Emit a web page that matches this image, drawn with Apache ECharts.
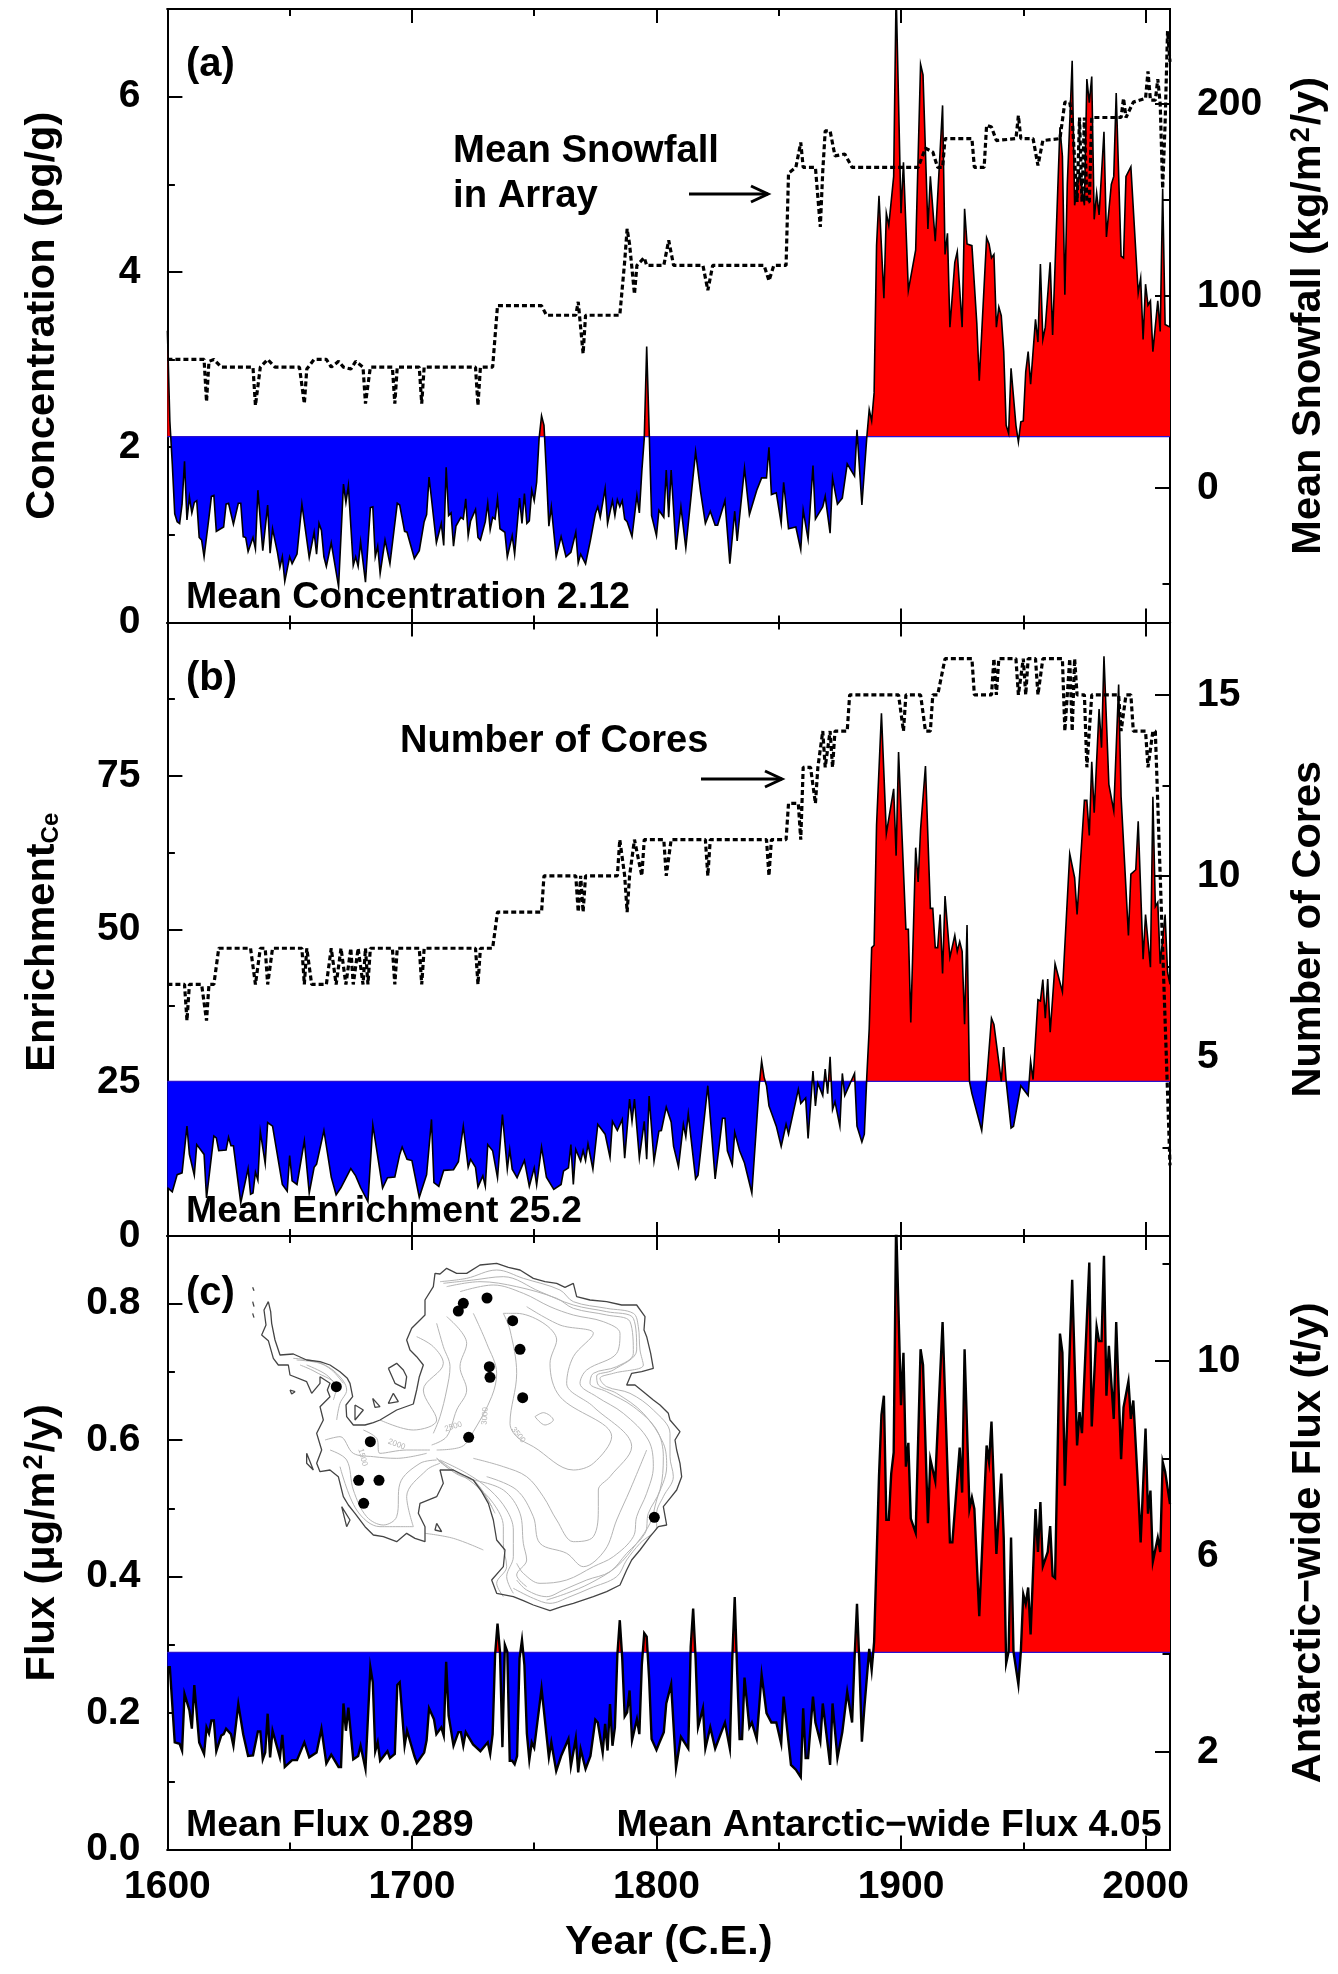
<!DOCTYPE html>
<html><head><meta charset="utf-8">
<style>html,body{margin:0;padding:0;background:#fff}#c{width:1338px;height:1974px}</style>
<script src="https://cdn.jsdelivr.net/npm/echarts@6/dist/echarts.min.js"></script>
</head><body><div id="c"></div>
<script>
const meanConcentration=2.12, meanEnrichment=25.2, meanFlux=0.289;
const concentration=[[1600,3.33],[1601,2.3],[1602,1.81],[1603,1.24],[1604,1.15],[1605,1.13],[1606,1.35],[1607,1.84],[1608,1.17],[1609,1.43],[1610,1.25],[1611,1.37],[1612,1.39],[1613,.97],[1614,.94],[1615,.75],[1617,1.2],[1618,1.44],[1619,1.45],[1620,1.04],[1623,1.09],[1624,1.35],[1625,1.36],[1627,1.12],[1629,1.36],[1630,1.36],[1631,.98],[1632,.97],[1633,.81],[1635,.97],[1636,.84],[1637,1.51],[1639,.82],[1641,1.34],[1642,.79],[1643,1.07],[1645,.8],[1646,.63],[1647,.75],[1648,.47],[1650,.75],[1651,.67],[1653,.78],[1655,1.35],[1658,.74],[1660,1.03],[1661,.78],[1662,1.13],[1663,1.05],[1664,.75],[1665,.64],[1667,.91],[1670,.41],[1672,1.58],[1673,1.37],[1674,1.56],[1676,.65],[1677,.75],[1678,.64],[1679,.92],[1681,.46],[1683,1.31],[1684,1.32],[1685,.75],[1686,.87],[1687,.56],[1689,.94],[1691,.67],[1694,1.36],[1695,1.34],[1697,1.04],[1698,1.03],[1701,.73],[1703,.82],[1705,1.15],[1706,1.23],[1707,1.66],[1710,.91],[1712,1.13],[1713,.88],[1714,1.77],[1715,1.22],[1716,1.25],[1717,.87],[1718,1.1],[1720,1.2],[1721,1.18],[1722,1.41],[1723,.99],[1724,1.16],[1726,1.29],[1727,.97],[1728,.94],[1730,1.15],[1731,1.36],[1732,1.06],[1733,1.2],[1734,1.18],[1735,1.41],[1736,1.07],[1738,1.03],[1739,.75],[1741,.99],[1742,.78],[1744,1.42],[1745,1.13],[1746,1.47],[1747,1.13],[1748,1.16],[1749,1.51],[1750,1.39],[1751,1.6],[1752,2.1],[1753,2.36],[1754,2.25],[1755,1.7],[1756,1.1],[1757,1.32],[1759,.75],[1761,.98],[1763,.75],[1765,.8],[1767,1.03],[1768,.68],[1769,.78],[1771,.67],[1773,.94],[1775,1.24],[1776,1.32],[1777,1.2],[1779,1.53],[1780,1.13],[1782,1.39],[1783,1.22],[1784,1.4],[1785,1.32],[1786,1.39],[1787,1.18],[1788,1.15],[1790,.98],[1792,1.45],[1793,1.25],[1794,1.72],[1795,2.1],[1796,3.15],[1797,2.2],[1798,1.22],[1800,.99],[1801,1.28],[1803,1.2],[1804,1.74],[1805,1.2],[1806,1.74],[1808,.83],[1810,1.32],[1812,.85],[1816,1.95],[1818,1.5],[1820,1.13],[1822,1.27],[1824,1.11],[1825,1.11],[1828,1.39],[1830,.67],[1832,1.27],[1833,.93],[1836,1.76],[1838,1.23],[1841,1.51],[1843,1.65],[1845,1.65],[1846,2.0],[1847,1.46],[1849,1.48],[1851,1.13],[1852,1.6],[1854,1.07],[1857,1.09],[1859,.83],[1860,1.28],[1862,.95],[1864,1.79],[1865,1.18],[1868,1.32],[1869,1.44],[1871,1.02],[1872,1.65],[1874,1.35],[1876,1.42],[1878,1.81],[1881,1.67],[1882,2.2],[1884,1.34],[1886,2.11],[1887,2.43],[1888,2.3],[1889,2.62],[1890,4.3],[1891,4.87],[1893,3.7],[1894,4.67],[1895,4.53],[1897,5.09],[1898,7.2],[1900,4.67],[1901,5.25],[1903,3.79],[1906,4.25],[1908,6.37],[1909,6.25],[1911,4.49],[1912,5.09],[1914,4.35],[1917,5.9],[1918,4.2],[1919,4.44],[1920,3.37],[1922,4.11],[1923,4.23],[1925,3.37],[1926,4.72],[1927,4.32],[1929,4.3],[1931,3.41],[1932,2.76],[1935,4.39],[1936,4.32],[1937,4.16],[1938,4.2],[1939,3.37],[1940,3.6],[1941,3.5],[1942,3.09],[1943,2.25],[1944,2.16],[1945,2.9],[1947,2.25],[1948,2.06],[1949,2.29],[1950,2.3],[1951,2.86],[1952,3.09],[1953,2.72],[1955,3.46],[1956,3.2],[1957,4.09],[1958,3.23],[1959,3.37],[1961,4.11],[1962,3.28],[1965,5.65],[1966,5.32],[1967,3.74],[1968,5.0],[1970,6.41],[1971,4.76],[1973,5.13],[1975,4.76],[1976,6.2],[1977,5.93],[1978,6.23],[1979,4.6],[1980,4.9],[1981,4.65],[1983,5.6],[1984,4.4],[1986,5.0],[1987,5.09],[1988,6.04],[1990,4.18],[1991,4.16],[1992,5.09],[1994,5.2],[1997,3.76],[1998,3.93],[1999,3.23],[2000,3.86],[2001,3.62],[2002,3.67],[2003,3.09],[2005,3.67],[2006,3.32],[2007,4.95],[2008,3.4],[2010,3.37]];
const snowfall=[[1600,67],[1615,67],[1616,45],[1617,66],[1619,67],[1622,63],[1635,63],[1636,43],[1638,63],[1641,67],[1644,63],[1654,63],[1656,44],[1657,62],[1660,67],[1665,67],[1667,63],[1670,66],[1672,63],[1675,62],[1677,66],[1680,63],[1681,44],[1683,63],[1692,63],[1693,44],[1694,63],[1703,63],[1704,44],[1705,63],[1726,63],[1727,43],[1728,63],[1733,63],[1735,95],[1753,95],[1755,90],[1767,90],[1768,97],[1770,70],[1771,90],[1785,90],[1787,118],[1788,135],[1789,127],[1791,101],[1792,116],[1795,120],[1796,116],[1803,116],[1805,129],[1807,116],[1819,116],[1821,103],[1823,116],[1844,116],[1846,108],[1848,116],[1853,116],[1854,164],[1857,167],[1859,180],[1860,167],[1865,167],[1867,136],[1868,165],[1869,186],[1871,186],[1873,173],[1877,174],[1880,167],[1907,167],[1910,177],[1913,175],[1915,167],[1917,167],[1918,182],[1929,182],[1930,167],[1934,167],[1935,189],[1937,188],[1939,181],[1947,182],[1948,194],[1949,182],[1954,182],[1956,168],[1958,181],[1965,182],[1967,201],[1969,201],[1970,193],[1972,149],[1973,193],[1974,149],[1975,193],[1976,149],[1977,149],[1978,193],[1990,193],[1991,203],[1992,193],[1995,201],[2000,203],[2001,217],[2002,202],[2004,202],[2005,213],[2006,200],[2007,156],[2008,190],[2009,238],[2010,222]];
const enrichment=[[1600,7.9],[1602,7.2],[1604,10],[1606,10.3],[1608,17.9],[1609,13.3],[1611,9.9],[1612,14.9],[1615,13.3],[1616,6.2],[1619,16.3],[1620,16],[1621,13.9],[1624,14],[1625,16.1],[1626,14.7],[1627,14.7],[1630,5.4],[1633,11],[1634,6.8],[1635,7],[1636,10.4],[1637,9.1],[1638,17],[1640,11.8],[1641,18.5],[1643,17.9],[1647,8.4],[1649,7.3],[1650,13.1],[1651,9],[1653,8.4],[1656,15.5],[1658,7],[1660,11.2],[1661,11.7],[1664,17.2],[1667,9.6],[1669,6.7],[1671,7.9],[1675,11],[1677,9.8],[1679,7.9],[1682,5.6],[1684,18.1],[1688,7.8],[1690,9.5],[1693,9.6],[1695,13.3],[1696,14.5],[1698,12.5],[1700,12.3],[1703,6.3],[1706,10],[1708,19],[1709,8.7],[1711,8.1],[1713,10.7],[1717,10.8],[1719,12.1],[1721,17.9],[1723,11.2],[1724,12.5],[1726,11.2],[1727,8],[1729,9.8],[1730,8.1],[1731,14.9],[1733,13.9],[1735,9.5],[1737,19.8],[1739,10.9],[1740,14.1],[1741,10.9],[1743,9.5],[1746,12.3],[1748,8.1],[1750,11.1],[1751,8.3],[1753,14.5],[1755,9.6],[1758,7.6],[1761,8.4],[1762,10.6],[1764,11.1],[1765,14.9],[1766,8.4],[1767,14.1],[1769,12.2],[1770,13.9],[1771,12.3],[1772,15],[1774,10.9],[1776,18.2],[1779,16.6],[1781,12.8],[1782,18.7],[1784,17.2],[1786,19],[1787,12.7],[1789,22.3],[1790,18.7],[1791,22.3],[1793,12.7],[1795,18.7],[1796,12.5],[1797,22.8],[1799,12.2],[1801,17.1],[1802,17.2],[1804,21],[1806,18.6],[1807,14.6],[1809,11.3],[1811,18.2],[1812,16.2],[1813,19.9],[1816,9.3],[1817,9.9],[1821,24.5],[1824,9.3],[1827,19.2],[1828,19.2],[1829,13.9],[1831,11.6],[1832,16.9],[1834,13.9],[1836,11.9],[1839,7],[1841,18.6],[1842,24.5],[1843,28.5],[1844,25.9],[1845,24.5],[1846,21.2],[1849,17.9],[1851,14.6],[1853,18.2],[1854,16.6],[1858,23.9],[1859,21.6],[1861,22.5],[1862,15.9],[1864,26.9],[1865,21.2],[1866,24.9],[1868,22.9],[1869,27.2],[1870,23.2],[1871,29.2],[1872,20.6],[1873,21.9],[1875,17.9],[1876,26.5],[1877,22.9],[1881,26.5],[1882,17.9],[1884,15.3],[1885,16.6],[1886,25.9],[1887,33.8],[1888,47],[1889,47.4],[1890,67],[1892,85.2],[1894,65.6],[1897,72.9],[1898,62],[1899,78.9],[1902,50],[1903,50],[1904,34.8],[1906,63.3],[1907,57.7],[1908,66.3],[1910,76.6],[1912,53.4],[1913,53.4],[1914,47],[1915,47],[1916,52.4],[1917,42.8],[1918,55.4],[1920,45.4],[1922,49],[1923,46.4],[1924,48],[1925,46.4],[1926,34.5],[1927,50.7],[1928,25.2],[1929,23.2],[1933,17.2],[1935,25.2],[1937,35.5],[1938,34.5],[1941,25.2],[1942,30.8],[1943,25.2],[1945,17.6],[1946,17.9],[1949,24.5],[1952,22.9],[1953,28.5],[1954,25.5],[1956,38.5],[1957,38.3],[1958,41.8],[1959,35.5],[1960,41.9],[1961,33.2],[1963,44.4],[1966,39.8],[1969,62.3],[1971,58.4],[1972,52.4],[1975,71],[1976,71],[1977,65.3],[1978,77.3],[1979,69],[1981,85.9],[1982,79.6],[1983,94.5],[1985,73.6],[1987,69.3],[1989,89.9],[1990,71.6],[1993,49],[1994,59],[1996,59.7],[1997,67.6],[1999,45.1],[2000,52.4],[2002,43.8],[2003,71.6],[2004,53.7],[2005,54.4],[2006,44.4],[2008,52.4],[2009,43],[2010,41]];
const cores=[[1600,7],[1607,7],[1608,6],[1609,7],[1614,7],[1616,6],[1617,7],[1619,7],[1621,8],[1634,8],[1636,7],[1638,8],[1640,8],[1641,7],[1643,8],[1655,8],[1656,7],[1657,8],[1659,7],[1665,7],[1667,8],[1669,7],[1671,8],[1673,7],[1675,8],[1676,7],[1678,8],[1680,7],[1681,8],[1682,7],[1683,8],[1692,8],[1693,7],[1694,8],[1703,8],[1704,7],[1705,8],[1726,8],[1727,7],[1728,8],[1733,8],[1735,9],[1753,9],[1754,10],[1767,10],[1768,9],[1769,10],[1770,9],[1771,10],[1784,10],[1785,11],[1787,10],[1788,9],[1789,10],[1791,11],[1794,10],[1795,11],[1803,11],[1804,10],[1806,11],[1820,11],[1821,10],[1822,11],[1845,11],[1846,10],[1847,11],[1853,11],[1854,12],[1858,12],[1859,11],[1860,13],[1863,13],[1865,12],[1866,13],[1868,14],[1869,13],[1871,14],[1872,13],[1873,14],[1878,14],[1879,15],[1899,15],[1901,14],[1902,15],[1908,15],[1910,14],[1912,14],[1913,15],[1915,15],[1918,16],[1929,16],[1930,15],[1937,15],[1938,16],[1939,15],[1940,16],[1947,16],[1948,15],[1950,16],[1951,15],[1952,16],[1955,16],[1956,15],[1958,16],[1966,16],[1967,14],[1969,16],[1970,14],[1971,16],[1972,15],[1975,15],[1976,13],[1978,15],[1989,15],[1990,14],[1992,15],[1994,15],[1995,14],[2000,14],[2001,13],[2003,14],[2004,14],[2005,12],[2006,10],[2007,8],[2008,6],[2009,4],[2010,2]];
const flux=[[1600,.267],[1601,.267],[1603,.157],[1605,.155],[1606,.145],[1607,.228],[1609,.204],[1610,.177],[1611,.241],[1613,.157],[1615,.14],[1616,.179],[1617,.17],[1618,.189],[1619,.189],[1620,.144],[1622,.167],[1623,.169],[1624,.177],[1626,.169],[1627,.152],[1629,.213],[1631,.169],[1633,.137],[1635,.138],[1637,.173],[1638,.173],[1639,.132],[1640,.142],[1641,.199],[1642,.135],[1643,.174],[1646,.135],[1647,.168],[1648,.121],[1651,.131],[1653,.131],[1656,.157],[1658,.135],[1661,.142],[1663,.177],[1665,.126],[1667,.139],[1670,.121],[1671,.121],[1672,.214],[1673,.174],[1674,.208],[1676,.132],[1678,.137],[1679,.152],[1681,.118],[1683,.267],[1684,.245],[1685,.144],[1686,.157],[1687,.13],[1690,.144],[1691,.134],[1693,.14],[1694,.241],[1695,.245],[1697,.152],[1698,.174],[1701,.137],[1702,.127],[1705,.142],[1706,.16],[1707,.207],[1709,.191],[1710,.169],[1712,.179],[1713,.167],[1714,.275],[1715,.196],[1717,.152],[1719,.172],[1720,.172],[1721,.152],[1722,.172],[1725,.154],[1728,.144],[1731,.157],[1732,.14],[1733,.169],[1734,.285],[1735,.331],[1736,.29],[1737,.15],[1738,.3],[1739,.29],[1740,.13],[1741,.13],[1742,.125],[1743,.137],[1744,.28],[1745,.307],[1746,.27],[1747,.17],[1748,.131],[1749,.157],[1750,.149],[1753,.236],[1756,.135],[1757,.157],[1759,.115],[1761,.137],[1764,.162],[1765,.122],[1767,.163],[1768,.113],[1769,.147],[1771,.118],[1773,.137],[1775,.19],[1776,.186],[1778,.142],[1779,.184],[1780,.145],[1781,.213],[1782,.152],[1783,.179],[1784,.285],[1785,.336],[1786,.28],[1787,.195],[1788,.201],[1789,.233],[1790,.16],[1792,.191],[1793,.169],[1794,.27],[1795,.317],[1796,.312],[1797,.25],[1798,.162],[1800,.146],[1801,.155],[1803,.172],[1804,.214],[1806,.242],[1808,.12],[1810,.165],[1813,.148],[1814,.297],[1815,.353],[1816,.28],[1817,.179],[1819,.207],[1820,.148],[1822,.179],[1824,.148],[1828,.186],[1830,.148],[1831,.28],[1832,.37],[1833,.26],[1834,.162],[1835,.162],[1836,.252],[1838,.179],[1839,.186],[1841,.162],[1843,.256],[1845,.2],[1847,.186],[1849,.186],[1851,.155],[1852,.224],[1855,.124],[1857,.117],[1859,.106],[1860,.207],[1861,.134],[1862,.134],[1864,.224],[1865,.186],[1867,.158],[1868,.214],[1871,.124],[1872,.214],[1874,.134],[1876,.172],[1878,.231],[1880,.186],[1881,.28],[1882,.36],[1883,.27],[1884,.158],[1885,.207],[1887,.294],[1888,.263],[1889,.304],[1891,.547],[1892,.637],[1893,.665],[1894,.483],[1895,.483],[1896,.551],[1897,.582],[1898,.92],[1900,.651],[1901,.728],[1902,.561],[1903,.596],[1904,.485],[1906,.464],[1908,.733],[1909,.71],[1911,.478],[1912,.572],[1914,.54],[1917,.773],[1920,.45],[1921,.45],[1924,.589],[1925,.523],[1926,.733],[1928,.499],[1929,.516],[1930,.499],[1932,.342],[1935,.592],[1936,.568],[1937,.627],[1939,.433],[1941,.551],[1942,.457],[1943,.273],[1944,.29],[1945,.457],[1946,.29],[1948,.242],[1949,.29],[1950,.374],[1951,.36],[1952,.384],[1953,.315],[1955,.499],[1956,.436],[1957,.509],[1958,.415],[1960,.436],[1961,.474],[1962,.401],[1963,.398],[1965,.756],[1966,.728],[1967,.533],[1970,.835],[1972,.592],[1973,.641],[1974,.61],[1977,.86],[1978,.62],[1980,.766],[1981,.745],[1982,.745],[1983,.87],[1984,.665],[1985,.738],[1987,.631],[1988,.773],[1990,.572],[1991,.648],[1993,.686],[1994,.631],[1995,.658],[1997,.526],[1998,.45],[2000,.617],[2001,.492],[2002,.526],[2003,.422],[2005,.457],[2006,.436],[2007,.568],[2008,.554],[2010,.506]];

const yearTicks=[1600,1700,1800,1900,2000], yearMinor=[1650,1750,1850,1950];
const ticksA=[0,2,4,6], minorA=[1,3,5], ticksSnow=[0,100,200], minorSnow=[-50,50,150];
const ticksB=[0,25,50,75], minorB=[12.5,37.5,62.5,87.5], ticksCores=[5,10,15], minorCores=[2.5,7.5,12.5];
const ticksC=[0,.2,.4,.6,.8], minorC=[.1,.3,.5,.7], ticksWide=[2,6,10], minorWide=[4,8,12];

// Inset map of Antarctica, in the inset's own map units
const coast=[[85,155],[92,185],[95,220],[105,270],[120,315],[160,312],[200,330],[240,335],[270,345],[300,365],[322,385],[330,400],[338,440],[318,465],[320,500],[340,525],[375,525],[400,518],[420,510],[470,480],[520,462],[530,420],[538,380],[550,345],[530,320],[510,300],[500,270],[515,235],[540,210],[555,195],[555,150],[580,110],[585,70],[600,72],[620,55],[650,70],[680,70],[720,45],[770,40],[805,52],[840,60],[880,85],[915,95],[950,100],[975,112],[1000,100],[1010,140],[1050,150],[1100,155],[1145,165],[1190,165],[1215,200],[1212,240],[1220,260],[1232,310],[1240,355],[1205,365],[1175,370],[1160,405],[1185,405],[1210,425],[1240,450],[1260,465],[1285,490],[1290,510],[1320,545],[1305,570],[1310,600],[1320,640],[1325,680],[1310,720],[1290,745],[1270,770],[1280,825],[1255,830],[1230,860],[1200,900],[1175,930],[1160,960],[1140,1005],[1100,1025],[1060,1040],[1000,1060],[965,1070],[930,1082],[880,1065],[850,1052],[820,1040],[770,1030],[755,990],[790,950],[795,900],[770,870],[765,840],[760,810],[745,760],[725,725],[700,690],[640,660],[600,660],[610,700],[590,740],[540,760],[535,790],[555,830],[555,875],[525,865],[500,850],[470,875],[430,860],[400,855],[375,830],[345,790],[325,765],[310,740],[295,680],[270,660],[240,665],[230,640],[245,600],[230,550],[250,510],[240,470],[270,440],[262,420],[270,400],[240,380],[240,400],[215,430],[200,395],[150,375],[145,345],[115,345],[100,325],[85,272],[65,255],[78,225],[72,180],[85,155]];
const islands=[[[445,355],[470,340],[490,360],[500,380],[495,415],[465,400],[445,355]],[[398,445],[420,470],[405,472],[398,445]],[[460,430],[475,455],[445,460],[460,430]],[[345,465],[370,480],[345,510],[345,465]],[[200,610],[220,660],[200,640],[200,610]],[[305,770],[330,810],[320,830],[305,770]],[[590,820],[605,845],[585,840],[590,820]],[[150,420],[165,425],[155,432],[150,420]],[[38,112],[42,122]],[[38,155],[42,170]],[[38,190],[42,203]]];
const contours=[
[[790,190],[830,190],[950,270],[930,340],[960,440],[1115,560],[1060,640],[1000,660],[880,590],[830,560],[810,520],[830,370],[810,240],[790,190]],
[[885,500],[910,488],[940,510],[915,525],[885,500]],
[[600,95],[680,85],[770,60],[850,85],[960,120],[1000,155],[1100,175],[1180,190],[1195,230],[1200,300],[1210,345],[1120,370],[1080,385],[1100,410],[1170,430],[1240,480],[1290,550],[1290,620],[1300,680],[1270,740],[1250,790],[1250,830],[1200,880],[1160,930],[1130,980],[1050,1015],[990,1040],[930,1060],[880,1045],[820,1015]],
[[620,110],[720,95],[830,110],[950,145],[1000,175],[1100,195],[1170,215],[1180,310],[1130,350],[1060,370],[1050,400],[1100,425],[1180,470],[1250,540],[1270,620],[1260,720],[1225,790],[1215,850],[1160,910],[1110,965],[1040,990],[970,1020],[920,1040],[860,1020],[830,990]],
[[660,125],[760,105],[850,130],[930,170],[1000,195],[1090,215],[1140,250],[1130,310],[1040,360],[1020,400],[1070,440],[1150,490],[1225,570],[1240,650],[1220,730],[1190,800],[1180,860],[1120,920],[1060,950],[980,990],[900,1000],[850,970],[830,940]],
[[610,100],[700,90],[790,80],[900,125],[1000,165],[1100,185],[1180,205],[1190,300],[1120,360],[1070,378],[1075,405],[1130,430],[1210,490],[1270,580],[1280,650],[1250,750],[1230,820],[1190,880],[1130,950],[1050,1000],[980,1030],[920,1050]],
[[860,170],[960,225],[1060,250],[1000,320],[980,400],[1060,470],[1175,590],[1110,680],[1075,720],[1075,770],[1060,860],[1000,875],[950,810],[910,740],[860,680],[790,650],[700,625]],
[[1220,600],[1170,720],[1130,810],[1095,900],[1030,950],[980,910],[900,880],[880,800],[830,720],[740,680]],
[[700,190],[740,280],[770,370],[755,440],[700,545],[665,590],[590,600]],
[[620,200],[680,280],[660,350],[680,420],[650,480],[620,560],[575,585]],
[[590,220],[610,290],[630,350],[620,420],[600,500],[580,550]],
[[530,260],[580,290],[610,340],[550,420],[590,510],[520,540],[420,510]],
[[255,570],[300,560],[340,610],[400,620],[470,625],[560,610]],
[[270,600],[320,630],[340,720],[380,800],[430,825],[470,800],[480,700],[540,640],[590,630]],
[[300,650],[350,780],[420,830],[520,830],[500,740],[560,660],[600,640]],
[[370,540],[410,565],[420,610],[500,600],[570,600]],
[[170,330],[240,340],[290,370],[320,420],[300,460],[290,510]],
[[200,345],[260,375],[300,420]],
[[160,325],[230,335],[275,360],[310,400]],
[[180,345],[225,365],[290,410],[280,450]],
[[590,625],[640,660],[700,700],[760,760],[790,830],[790,880],[800,950],[770,1000],[790,1040]],
[[600,630],[680,670],[750,720],[800,780],[820,840],[820,920],[800,980],[820,1030]],
[[700,690],[790,720],[840,790],[850,880],[860,930],[830,975],[860,1010]],
[[555,850],[640,865],[730,900]],
[[590,625],[640,665],[700,690],[755,770]],
[[595,632],[650,672],[710,700],[765,790]]];
const coreSites=[[289,410],[391,575],[356,691],[417,691],[371,760],[686,562],[655,183],[670,160],[741,144],[818,212],[840,298],[748,350],[750,382],[848,443],[1243,802]];
const contourLabels=[['2000',470,583,-.35],['3000',735,498,1.5],['3500',835,555,-.9],['1500',368,622,-1.3],['2500',640,530,.3]];

const FONT='"Liberation Sans",Arial,sans-serif', TICK=39, INNER=37.5, TITLE=41.5;
const L=167.4, W=1002.6, H=613.5, TOPS=[9,622.5,1236];
const grids=TOPS.map(t=>({left:L,top:t,width:W,height:H,outerBoundsMode:'none',containLabel:false}));
grids.push({left:240,top:1250,width:460,height:370,outerBoundsMode:'none'});

const xAxes=[], yAxes=[];
function xA(g,pos,vals,len,labels){
  xAxes.push({type:'value',gridIndex:g,position:pos,min:1600,max:2010,
    axisLine:{show:true,onZero:false,lineStyle:{color:'#000',width:2}},
    splitLine:{show:false},
    axisTick:{show:true,inside:true,length:len,customValues:vals,lineStyle:{color:'#000',width:2}},
    axisLabel:labels?{show:true,customValues:vals,color:'#000',fontFamily:FONT,fontWeight:'bold',fontSize:TICK,margin:18,formatter:v=>String(v)}:{show:false},
    name:labels?'Year (C.E.)':'',nameLocation:'middle',nameGap:72,
    nameTextStyle:{color:'#000',fontFamily:FONT,fontWeight:'bold',fontSize:TITLE}});
  return xAxes.length-1;
}
const supRich={n:{fontFamily:FONT,fontWeight:'bold',fontSize:TITLE,color:'#000'},s:{fontFamily:FONT,fontWeight:'bold',fontSize:27,color:'#000',verticalAlign:'top',padding:[0,2,12,2]}};
function yA(g,pos,min,max,vals,len,labels,name,fmt,extra){
  yAxes.push({type:'value',gridIndex:g,position:pos,min,max,
    axisLine:{show:true,onZero:false,lineStyle:{color:'#000',width:2}},
    splitLine:{show:false},
    axisTick:{show:true,inside:true,length:len,customValues:vals,lineStyle:{color:'#000',width:2}},
    axisLabel:labels?{show:true,inside:false,customValues:vals,color:'#000',fontFamily:FONT,fontWeight:'bold',fontSize:TICK,margin:27,formatter:fmt||(v=>String(v))}:{show:false},
    name:name||'',nameLocation:'middle',nameRotate:90,nameGap:pos==='left'?104:118,
    nameTextStyle:Object.assign({color:'#000',fontFamily:FONT,fontWeight:'bold',fontSize:TITLE},extra||{})});
  return yAxes.length-1;
}
const series=[];
function panel(g,meanVal,vals,lw,dashed,ly,ry){
  const xb=xA(g,'bottom',yearTicks,14,g===2); xA(g,'bottom',yearMinor,7,false);
  xA(g,'top',yearTicks,14,false); xA(g,'top',yearMinor,7,false);
  const yl=yA(g,'left',ly.min,ly.max,ly.ticks,15,true,ly.name,ly.fmt,ly.extra);
  yA(g,'left',ly.min,ly.max,ly.minor,7.5,false);
  const yr=yA(g,'right',ry.min,ry.max,ry.ticks,15,true,ry.name,null,ry.extra);
  yA(g,'right',ry.min,ry.max,ry.minor,7.5,false);
  const frac=1-(meanVal-ly.min)/(ly.max-ly.min), top=TOPS[g];
  const fill=new echarts.graphic.LinearGradient(0,top,0,top+H,[
    {offset:0,color:'#ff0000'},{offset:frac,color:'#ff0000'},{offset:frac,color:'#0000ff'},{offset:1,color:'#0000ff'}],true);
  series.push({type:'line',xAxisIndex:xb,yAxisIndex:yl,data:vals,showSymbol:false,silent:true,
    lineStyle:{width:0},areaStyle:{origin:meanVal,color:fill,opacity:1},z:2});
  series.push({type:'line',xAxisIndex:xb,yAxisIndex:yl,data:[[1600,meanVal],[2010,meanVal]],showSymbol:false,silent:true,
    lineStyle:{color:'#2a10d0',width:1.2},z:3});
  series.push({type:'line',xAxisIndex:xb,yAxisIndex:yl,data:vals,showSymbol:false,silent:true,
    lineStyle:{color:'#000',width:lw,join:'miter'},z:4});
  if(dashed) series.push({type:'line',xAxisIndex:xb,yAxisIndex:yr,data:dashed,showSymbol:false,silent:true,
    lineStyle:{color:'#000',width:3.2,type:[5,3]},z:5});
}
panel(0,meanConcentration,concentration,1.6,snowfall,
  {min:0,max:7,ticks:ticksA,minor:minorA,name:'Concentration (pg/g)'},
  {min:-70,max:249.5,ticks:ticksSnow,minor:minorSnow,name:'{n|Mean Snowfall (kg/m}{s|2}{n|/y)}',extra:{rich:supRich}});
panel(1,meanEnrichment,enrichment,1.6,cores,
  {min:0,max:100,ticks:ticksB,minor:minorB,name:'{n|Enrichment}{s|Ce}',extra:{rich:{n:supRich.n,s:{fontFamily:FONT,fontWeight:'bold',fontSize:24,color:'#000',verticalAlign:'bottom',padding:[16,26,0,0]}}}},
  {min:.05,max:17,ticks:ticksCores,minor:minorCores,name:'Number of Cores'});
panel(2,meanFlux,flux,2.4,null,
  {min:0,max:.899,ticks:ticksC,minor:minorC,name:'{n|Flux (μg/m}{s|2}{n|/y)}',fmt:v=>v.toFixed(1),extra:{rich:supRich}},
  {min:0,max:12.56,ticks:ticksWide,minor:minorWide,name:'Antarctic−wide Flux (t/y)'});

// inset axes
const mx=xAxes.length; xAxes.push({type:'value',gridIndex:3,min:0,max:1380,show:false});
const my=yAxes.length; yAxes.push({type:'value',gridIndex:3,min:0,max:1110,inverse:true,show:false});
contours.forEach(c=>series.push({type:'line',xAxisIndex:mx,yAxisIndex:my,data:c,showSymbol:false,silent:true,smooth:.35,
  lineStyle:{color:'#b4b4b4',width:1},z:1}));
[coast].concat(islands).forEach(c=>series.push({type:'line',xAxisIndex:mx,yAxisIndex:my,data:c,showSymbol:false,silent:true,
  lineStyle:{color:'#444444',width:1.3},z:1}));
series.push({type:'scatter',xAxisIndex:mx,yAxisIndex:my,data:coreSites,symbolSize:11,itemStyle:{color:'#000',opacity:1},silent:true,z:6,
  clip:false});

function txt(text,x,y,align,size){
  return {type:'text',x,y,z:20,style:{text,x:0,y:0,fill:'#000',font:`bold ${size||INNER}px ${FONT}`,textAlign:align||'left',textVerticalAlign:'middle'}};
}
function arrow(x1,x2,y){
  const s={stroke:'#000',lineWidth:3,fill:null};
  return [{type:'polyline',z:20,shape:{points:[[x1,y],[x2,y]]},style:s},
          {type:'polyline',z:20,shape:{points:[[x2-17,y-8],[x2,y],[x2-17,y+8]]},style:s}];
}
const graphic=[
  txt('(a)',186,65,'left',40),txt('(b)',186,679,'left',40),txt('(c)',186,1294,'left',40),
  txt('Mean Snowfall',453,151,'left',38.3),txt('in Array',453,196,'left',38.3),txt('Number of Cores',400,742,'left',38),
  txt('Mean Concentration 2.12',186,598),txt('Mean Enrichment 25.2',186,1212),
  txt('Mean Flux 0.289',186,1826),txt('Mean Antarctic−wide Flux 4.05',1161.5,1826,'right')
].concat(arrow(689,768,194),arrow(701,782,779));
contourLabels.forEach(([t,x,y,r])=>graphic.push({type:'text',x:240+x/3,y:1250+y/3,rotation:r,z:3,
  style:{text:t,fill:'#b4b4b4',font:`8px ${FONT}`,textAlign:'center',textVerticalAlign:'middle'}}));

const chart=echarts.init(document.getElementById('c'),null,{renderer:'canvas'});
chart.setOption({animation:false,backgroundColor:'#fff',grid:grids,xAxis:xAxes,yAxis:yAxes,series,graphic});
</script></body></html>
